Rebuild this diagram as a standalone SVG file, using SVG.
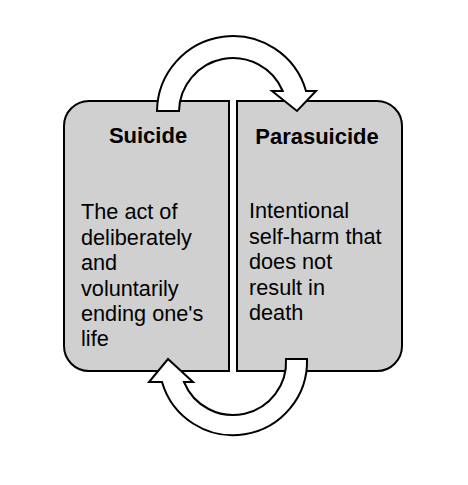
<svg xmlns="http://www.w3.org/2000/svg" width="468" height="485" viewBox="0 0 468 485">
<style>
.box{fill:#d0d0d0;stroke:#000;stroke-width:2}
.arrow{fill:#fff;stroke:#000;stroke-width:2;stroke-linejoin:miter}
.title{font-family:"Liberation Sans",Arial,sans-serif;font-size:22px;font-weight:bold;fill:#000;text-anchor:middle}
.body{font-family:"Liberation Sans",Arial,sans-serif;font-size:21.7px;fill:#000}
</style>
<rect width="468" height="485" fill="#fff"/>
<g id="suicide">
<path class="box" d="M89,101 H229 V371 H89 A25,25 0 0 1 64,346 V126 A25,25 0 0 1 89,101 Z"/>
<text class="title" x="148" y="143">Suicide</text>
<text class="body" x="81" y="219">
<tspan x="81" y="219">The act of</tspan>
<tspan x="81" y="244.5">deliberately</tspan>
<tspan x="81" y="270">and</tspan>
<tspan x="81" y="295.5">voluntarily</tspan>
<tspan x="81" y="321">ending one's</tspan>
<tspan x="81" y="346">life</tspan>
</text>
</g>
<g id="parasuicide">
<path class="box" d="M237,101 H377 A25,25 0 0 1 402,126 V346 A25,25 0 0 1 377,371 H237 Z"/>
<text class="title" x="317" y="144">Parasuicide</text>
<text class="body" x="249" y="218">
<tspan x="249" y="218">Intentional</tspan>
<tspan x="249" y="243.5">self-harm that</tspan>
<tspan x="249" y="269">does not</tspan>
<tspan x="249" y="294.5">result in</tspan>
<tspan x="249" y="320">death</tspan>
</text>
</g>
<g id="connectors">
<path class="arrow" d="M157,111 A76,76 0 0 1 306,91 L316,91 L297,111 L272,91 L282.7,91 A54,54 0 0 0 179,111 Z"/>
<path class="arrow" d="M307,359 A74,74 0 0 1 162,382 L149,382 L168,359 L193,382 L184,382 A53,53 0 0 0 286,359 Z"/>
</g>
</svg>
